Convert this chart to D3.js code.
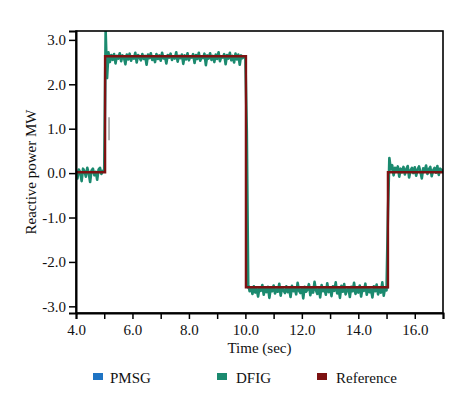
<!DOCTYPE html>
<html>
<head>
<meta charset="utf-8">
<script src="https://cdn.jsdelivr.net/npm/d3@7"></script>
<style>
  body { margin: 0; background: #fff; }
  text { font-family: "Liberation Serif", "Times New Roman", serif; fill: #111; }
</style>
</head>
<body>
<svg id="chart"></svg>
<script>
var vWidth = 474;
var vHeight = 395;
var margin = { top: 31, right: 31, bottom: 82, left: 76 };

// reference step signal
var refTime  = [4.0, 5.03, 5.03, 10.02, 10.02, 15.05, 15.05, 17.0];
var refValue = [0.02, 0.02, 2.63, 2.63, -2.57, -2.57, 0.02, 0.02];

// PMSG (mostly hidden under DFIG)
var pmsgTime  = [4.0, 5.03, 5.05, 10.02, 10.04, 10.08, 15.05, 15.07, 17.0];
var pmsgValue = [0.02, 0.02, 2.62, 2.62, -2.42, -2.58, -2.58, 0.03, 0.03];

// short grey transient after the first step
var transTime  = [5.17, 5.17];
var transValue = [1.26, 0.74];

// DFIG samples, one every 0.05 s starting at 4.0 s
var dfigStart = 4.0;
var dfigStep = 0.05;
var dfigValue = [
  0.05, -0.12, 0.08, 0.02, -0.18, 0.10, 0.04, -0.08, 0.12, 0.00,
  -0.20, 0.06, 0.10, -0.05, 0.03, -0.15, 0.08, 0.12, -0.02, 0.05,
  0.07, 3.20, 2.14, 2.72, 2.50, 2.66, 2.55, 2.68, 2.47, 2.64,
  2.58, 2.70, 2.52, 2.65, 2.60, 2.45, 2.67, 2.56, 2.69, 2.53,
  2.63, 2.58, 2.71, 2.49, 2.66, 2.60, 2.54, 2.68, 2.57, 2.64,
  2.44, 2.67, 2.59, 2.70, 2.55, 2.62, 2.50, 2.68, 2.57, 2.65,
  2.53, 2.71, 2.58, 2.63, 2.47, 2.66, 2.60, 2.69, 2.55, 2.62,
  2.58, 2.72, 2.51, 2.64, 2.59, 2.67, 2.46, 2.65, 2.56, 2.70,
  2.54, 2.63, 2.60, 2.68, 2.48, 2.66, 2.57, 2.71, 2.53, 2.62,
  2.59, 2.69, 2.43, 2.65, 2.58, 2.70, 2.55, 2.64, 2.50, 2.67,
  2.57, 2.72, 2.52, 2.63, 2.60, 2.68, 2.45, 2.66, 2.58, 2.71,
  2.54, 2.64, 2.49, 2.69, 2.56, 2.67, 2.44, 2.65, 2.59, 2.62,
  2.60, 0.95, -2.50, -2.66, -2.58, -2.72, -2.55, -2.69, -2.61, -2.78,
  -2.57, -2.65, -2.52, -2.74, -2.60, -2.68, -2.56, -2.81, -2.59, -2.66,
  -2.53, -2.71, -2.62, -2.67, -2.49, -2.76, -2.58, -2.64, -2.70, -2.55,
  -2.68, -2.60, -2.79, -2.54, -2.66, -2.61, -2.73, -2.47, -2.65, -2.70,
  -2.58, -2.82, -2.56, -2.67, -2.62, -2.50, -2.75, -2.59, -2.69, -2.45,
  -2.64, -2.72, -2.57, -2.80, -2.52, -2.66, -2.61, -2.74, -2.48, -2.68,
  -2.59, -2.77, -2.55, -2.65, -2.46, -2.71, -2.60, -2.81, -2.54, -2.67,
  -2.50, -2.73, -2.63, -2.58, -2.79, -2.56, -2.66, -2.47, -2.72, -2.61,
  -2.69, -2.53, -2.78, -2.59, -2.65, -2.49, -2.74, -2.57, -2.68, -2.62,
  -2.80, -2.55, -2.66, -2.51, -2.73, -2.60, -2.69, -2.46, -2.76, -2.58,
  -2.64, -0.90, 0.34, 0.08, 0.18, -0.05, 0.12, 0.04, 0.15, -0.08,
  0.10, 0.02, 0.14, -0.03, 0.09, 0.16, -0.10, 0.06, 0.12, 0.00,
  0.13, -0.06, 0.08, 0.15, 0.03, -0.12, 0.11, 0.05, 0.17, -0.02,
  0.09, 0.14, -0.07, 0.06, 0.12, 0.01, 0.16, -0.04, 0.10, 0.07,
  0.05
];

var xTicks = [4, 5, 6, 7, 8, 9, 10, 11, 12, 13, 14, 15, 16, 17];
var yTicks = [-3, -2, -1, 0, 1, 2, 3];

var legendNames = ['PMSG', 'DFIG', 'Reference'];
var legendColors = ['#1f74c4', '#1b8a6f', '#7d1212'];

var w = vWidth - margin.left - margin.right;
var h = vHeight - margin.top - margin.bottom;

var svg = d3.select('#chart')
    .attr('width', vWidth)
    .attr('height', vHeight);

var g = svg.append('g')
    .attr('transform', 'translate(' + margin.left + ',' + margin.top + ')');

var x = d3.scaleLinear().domain([4, 17]).range([0, w]);
var y = d3.scaleLinear().domain([-3.15, 3.2]).range([h, 0]);

g.append('clipPath').attr('id', 'clip')
  .append('rect').attr('width', w).attr('height', h);

var line = d3.line()
    .x(function (d) { return x(d[0]); })
    .y(function (d) { return y(d[1]); });

function pairs(ts, vs) {
  return ts.map(function (t, i) { return [t, vs[i]]; });
}

var dfigData = dfigValue.map(function (v, i) { return [dfigStart + i * dfigStep, v]; });

var plot = g.append('g').attr('clip-path', 'url(#clip)');

plot.append('path')
    .datum(pairs(pmsgTime, pmsgValue))
    .attr('d', line)
    .attr('fill', 'none')
    .attr('stroke', legendColors[0])
    .attr('stroke-width', 1.5);

plot.append('path')
    .datum(dfigData)
    .attr('d', line)
    .attr('fill', 'none')
    .attr('stroke', legendColors[1])
    .attr('stroke-width', 2.6)
    .attr('stroke-linejoin', 'round');

plot.append('path')
    .datum(pairs(transTime, transValue))
    .attr('d', line)
    .attr('fill', 'none')
    .attr('stroke', '#8a8a8a')
    .attr('stroke-width', 1.3);

plot.append('path')
    .datum(pairs(refTime, refValue))
    .attr('d', line)
    .attr('fill', 'none')
    .attr('stroke', legendColors[2])
    .attr('stroke-width', 2.4);

// frame
g.append('rect')
    .attr('width', w).attr('height', h)
    .attr('fill', 'none')
    .attr('stroke', '#000')
    .attr('stroke-width', 1.6);

var xAxis = g.append('g')
    .attr('transform', 'translate(0,' + h + ')')
    .call(d3.axisBottom(x)
      .tickValues(xTicks)
      .tickSize(6)
      .tickPadding(5)
      .tickFormat(function (d) { return (d % 2 === 0 && d < 17) ? d.toFixed(1) : ''; }));

var yAxis = g.append('g')
    .call(d3.axisLeft(y)
      .tickValues(yTicks)
      .tickSize(7)
      .tickPadding(3)
      .tickFormat(function (d) { return d.toFixed(1); }));

[xAxis, yAxis].forEach(function (a) {
  a.select('.domain').attr('stroke', '#000').attr('stroke-width', 2);
  a.selectAll('.tick line').attr('stroke', '#000').attr('stroke-width', 1.5);
  a.selectAll('.tick text')
    .style('font-family', '"Liberation Serif", serif')
    .style('font-size', '15px')
    .attr('fill', '#111');
});

// axis titles
g.append('text')
    .attr('x', w / 2)
    .attr('y', h + 40)
    .attr('text-anchor', 'middle')
    .style('font-size', '15px')
    .text('Time (sec)');

g.append('text')
    .attr('transform', 'translate(' + (-40) + ',' + (h / 2) + ') rotate(-90)')
    .attr('text-anchor', 'middle')
    .style('font-size', '15px')
    .text('Reactive power MW');

// legend
var legendX = [93, 217, 317];
var legend = svg.selectAll('.legend')
    .data(legendNames)
    .enter()
    .append('g')
    .attr('class', 'legend')
    .attr('transform', function (d, i) { return 'translate(' + legendX[i] + ',373)'; });

legend.append('rect')
    .attr('width', 10).attr('height', 7)
    .attr('fill', function (d, i) { return legendColors[i]; });

legend.append('text')
    .attr('x', function (d, i) { return i === 0 ? 17 : 19; })
    .attr('y', 10)
    .style('font-size', '15px')
    .text(function (d) { return d; });
</script>
</body>
</html>
